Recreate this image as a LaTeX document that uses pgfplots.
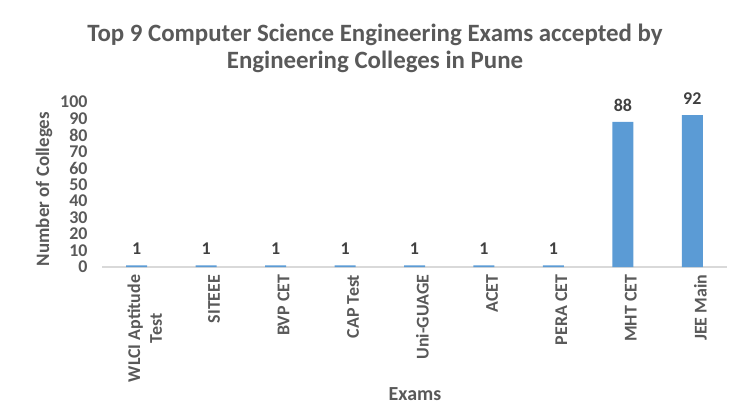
\documentclass[border=0pt]{standalone}
\usepackage{fontspec}
\setmainfont{Carlito}
\usepackage{pgfplots}
\pgfplotsset{compat=1.18}
\definecolor{txt}{HTML}{595959}
\definecolor{val}{HTML}{404040}
\definecolor{barc}{HTML}{5B9BD5}
\definecolor{base}{HTML}{D9D9D9}
\begin{document}
\begin{tikzpicture}[x=1bp,y=1bp]
\useasboundingbox (0,0) rectangle (750,-410);
\begin{axis}[
  at={(102bp,-267bp)}, anchor=south west,
  scale only axis, width=625bp, height=165bp,
  xmin=-0.5, xmax=8.5, ymin=0, ymax=100,
  axis line style={draw=none}, tick style={draw=none},
  ytick={0,10,...,100},
  xtick={0,...,8},
  xticklabels={{WLCI Aptitude\\Test},SITEEE,BVP CET,CAP Test,Uni-GUAGE,ACET,PERA CET,MHT CET,JEE Main},
  /pgf/number format/assume math mode=true,
  yticklabel style={font=\bfseries\fontsize{18}{19}\selectfont, text=txt, xshift=-11bp},
  xticklabel style={rotate=90, anchor=east, align=center, font=\bfseries\fontsize{18}{22}\selectfont, text=txt, yshift=-8bp},
  ybar, bar width=21bp,
  nodes near coords,
  every node near coord/.append style={font=\bfseries\fontsize{18}{19}\selectfont, text=val, yshift=7bp},
  clip=false,
]
\draw[base, line width=1.5bp] (axis cs:-0.5,0) -- (axis cs:8.5,0);
\addplot[fill=barc, draw=none] coordinates {(0,1) (1,1) (2,1) (3,1) (4,1) (5,1) (6,1) (7,88) (8,92)};
\end{axis}
\node[font=\bfseries\fontsize{25}{27}\selectfont, text=txt, align=center] at (375,-48.5) {Top 9 Computer Science Engineering Exams accepted by\\Engineering Colleges in Pune};
\node[font=\bfseries\fontsize{19}{21}\selectfont, text=txt, rotate=90] at (44,-189) {Number of Colleges};
\node[font=\bfseries\fontsize{20}{22}\selectfont, text=txt] at (415,-394) {Exams};
\end{tikzpicture}
\end{document}
